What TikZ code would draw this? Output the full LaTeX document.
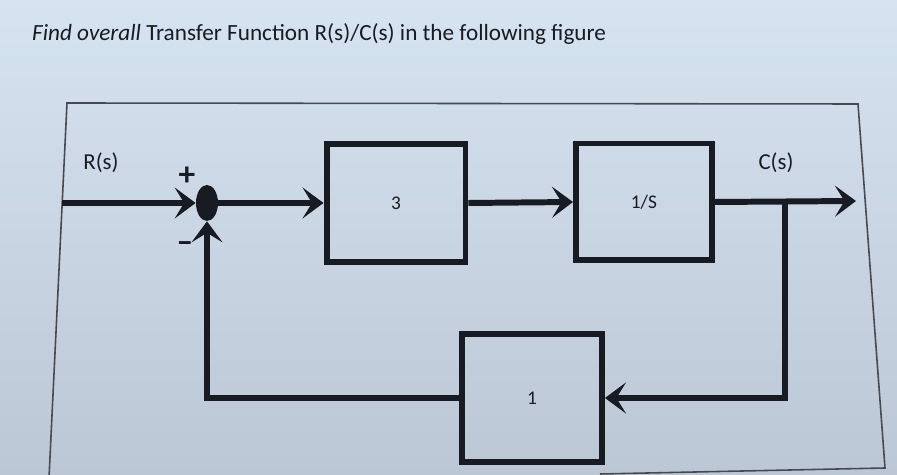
\documentclass[tikz,border=0pt]{standalone}
\usepackage{fontspec}
\setmainfont{Carlito}
\usepackage{tikz}
\usetikzlibrary{arrows.meta, shapes.geometric, positioning}
\definecolor{paperblue}{RGB}{214,227,240}
\definecolor{papergrey}{RGB}{188,199,214}
\definecolor{inkdark}{RGB}{25,27,34}

\begin{document}
\begin{tikzpicture}[
    x=0.02cm, y=-0.02cm,
    block/.style={draw=inkdark, line width=3.4pt, font=\fontsize{11}{13}\selectfont, text=inkdark},
    tag/.style={font=\fontsize{13}{15}\selectfont, text=inkdark},
    sign/.style={font=\bfseries\fontsize{19}{21}\selectfont, text=inkdark, inner sep=0pt},
    wire/.style={draw=inkdark, line width=3.4pt, -{Stealth[length=0.42cm, width=0.62cm, inset=0.19cm]}}
]
    % Paper and frame
    \useasboundingbox (0,0) rectangle (897,475);
    \shade[top color=paperblue, bottom color=papergrey] (0,0) rectangle (897,475);
    \draw[inkdark!80, line width=0.9pt] (49,478) -- (67,103) -- (858,104) -- (885,468) -- (600,474);

    % Title
    \node[anchor=west, font=\fontsize{13.2}{15}\selectfont, text=inkdark] (title) at (26,34)
        {\textit{Find overall} Transfer Function R(s)/C(s) in the following figure};

    % Blocks
    \node[block, minimum width=2.78cm, minimum height=2.36cm] (gain) at (396,203) {3};
    \node[block, minimum width=2.72cm, minimum height=2.34cm] (integ) at (644,202) {1/S};
    \node[block, minimum width=2.80cm, minimum height=2.56cm] (fb) at (532,398) {1};

    % Summing junction
    \node[ellipse, fill=inkdark, minimum width=0.44cm, minimum height=0.72cm, inner sep=0pt] (sum) at (207,203) {};
    \node[sign] (plus) at (187,176) {+};
    \node[sign] (minus) at (185,247) {--};

    % Signals
    \coordinate (in) at (62,203);
    \coordinate (out) at (856,201);
    \coordinate (br) at (785,201);
    \node[tag] (rs) at (101,163) {R(s)};
    \node[tag] (cs) at (776,163) {C(s)};

    % Connectors
    \draw[wire] (in) -- (sum.west);
    \draw[wire] (sum.east) -- (gain.west);
    \draw[wire] (gain.east) -- (integ.west);
    \draw[wire] (integ.east) -- (out);
    \draw[wire] (br) |- (fb.east);
    \draw[wire] (fb.west) -| (sum.south);
\end{tikzpicture}
\end{document}
